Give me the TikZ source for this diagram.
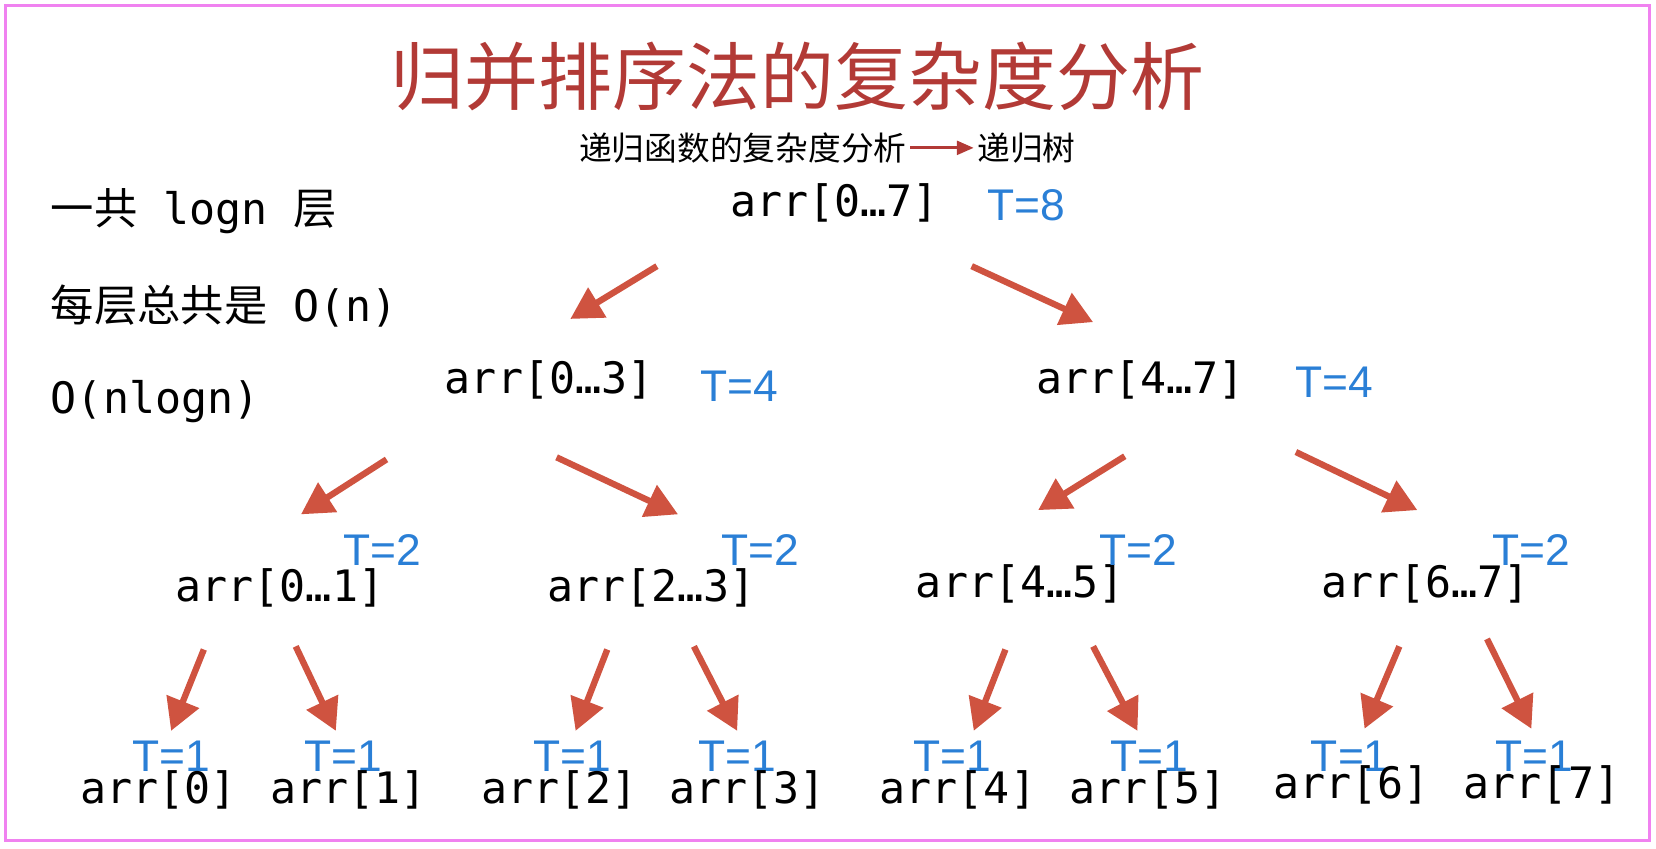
\documentclass[tikz,border=0pt]{standalone}
\usepackage{fontspec}
\setmainfont{DejaVu Sans Mono}
\newfontfamily\cjk{Noto Sans CJK SC}
\newfontfamily\sfb{Liberation Sans}
\usetikzlibrary{arrows.meta}
\definecolor{ttl}{HTML}{B23A36}
\definecolor{arr}{HTML}{CF5340}
\definecolor{tb}{HTML}{2A7FD6}
\tikzset{
 x=1pt,y=-1pt,
 lbl/.style={font=\fontsize{41}{43}\selectfont,inner sep=0pt},
 tl/.style={font=\sfb\fontsize{42}{44}\selectfont,text=tb,inner sep=0pt},
 lt/.style={lbl,anchor=west},
 ra/.style={draw=arr,line width=6pt,-{Triangle[length=30pt,width=32pt]}},
}
\begin{document}
\begin{tikzpicture}
\useasboundingbox (0,0) rectangle (1568,803);
\draw[color={rgb,255:red,240;green,130;blue,240},line width=3pt] (5,5) rectangle (1562,796);
\node[font=\cjk\fontsize{70}{72}\selectfont,text=ttl] (title) at (755,72) {归并排序法的复杂度分析};
\node[font=\cjk\fontsize{31}{33}\selectfont,anchor=east] (sub1) at (862,140) {递归函数的复杂度分析};
\node[font=\cjk\fontsize{31}{33}\selectfont,anchor=west] (sub2) at (922,140) {递归树};
\draw[draw=ttl,line width=3pt,-{Triangle[length=16pt,width=13pt]}] (sub1.east) -- (sub2.west);
\node[lt] (l1) at (48,200) {{\cjk 一共} logn {\cjk 层}};
\node[lt] (l2) at (48,290) {{\cjk 每层总共是} O(n)};
\node[lt] (l3) at (48,380) {O(nlogn)};
\node[lbl] (a07) at (790,192) {arr[0…7]};
\node[tl] (t07) at (972,194) {T=8};
\node[lbl] (a03) at (520,360) {arr[0…3]};
\node[tl] (t03) at (700,366) {T=4};
\node[lbl] (a47) at (1080,360) {arr[4…7]};
\node[tl] (t47) at (1263,362) {T=4};
\node[lbl] (a01) at (265,557) {arr[0…1]};
\node[tl] (t01) at (362,521) {T=2};
\node[lbl] (a23) at (617,557) {arr[2…3]};
\node[tl] (t23) at (720,521) {T=2};
\node[lbl] (a45) at (966,553) {arr[4…5]};
\node[tl] (t45) at (1078,521) {T=2};
\node[lbl] (a67) at (1350,553) {arr[6…7]};
\node[tl] (t67) at (1450,521) {T=2};
\foreach \i/\x/\tx/\y in {0/150/162/748,1/330/325/748,2/530/542/748,3/708/698/748,4/907/902/748,5/1087/1088/748,6/1280/1278/743,7/1460/1453/743}{
 \node[tl] (t\i) at (\tx,716) {T=1};
 \node[lbl] (b\i) at (\x,\y) {arr[\i]};
}
\foreach \n/\sx/\sy/\ex/\ey in {p1/622/252/540/302,p2/920/252/1035/305,
 p3/366/435/285/487,p4/527/433/642/487,p5/1065/432/983/483,p6/1227/428/1342/483,
 p7/193/615/162/692,p8/280/612/318/692,p9/575/615/545/692,p10/657/612/698/692,
 p11/952/615/922/692,p12/1035/612/1077/692,p13/1325/612/1292/690,p14/1408/605/1450/690}{
 \coordinate (\n s) at (\sx,\sy);
 \coordinate (\n e) at (\ex,\ey);
 \draw[ra] (\n s) -- (\n e);
}
\end{tikzpicture}
\end{document}
